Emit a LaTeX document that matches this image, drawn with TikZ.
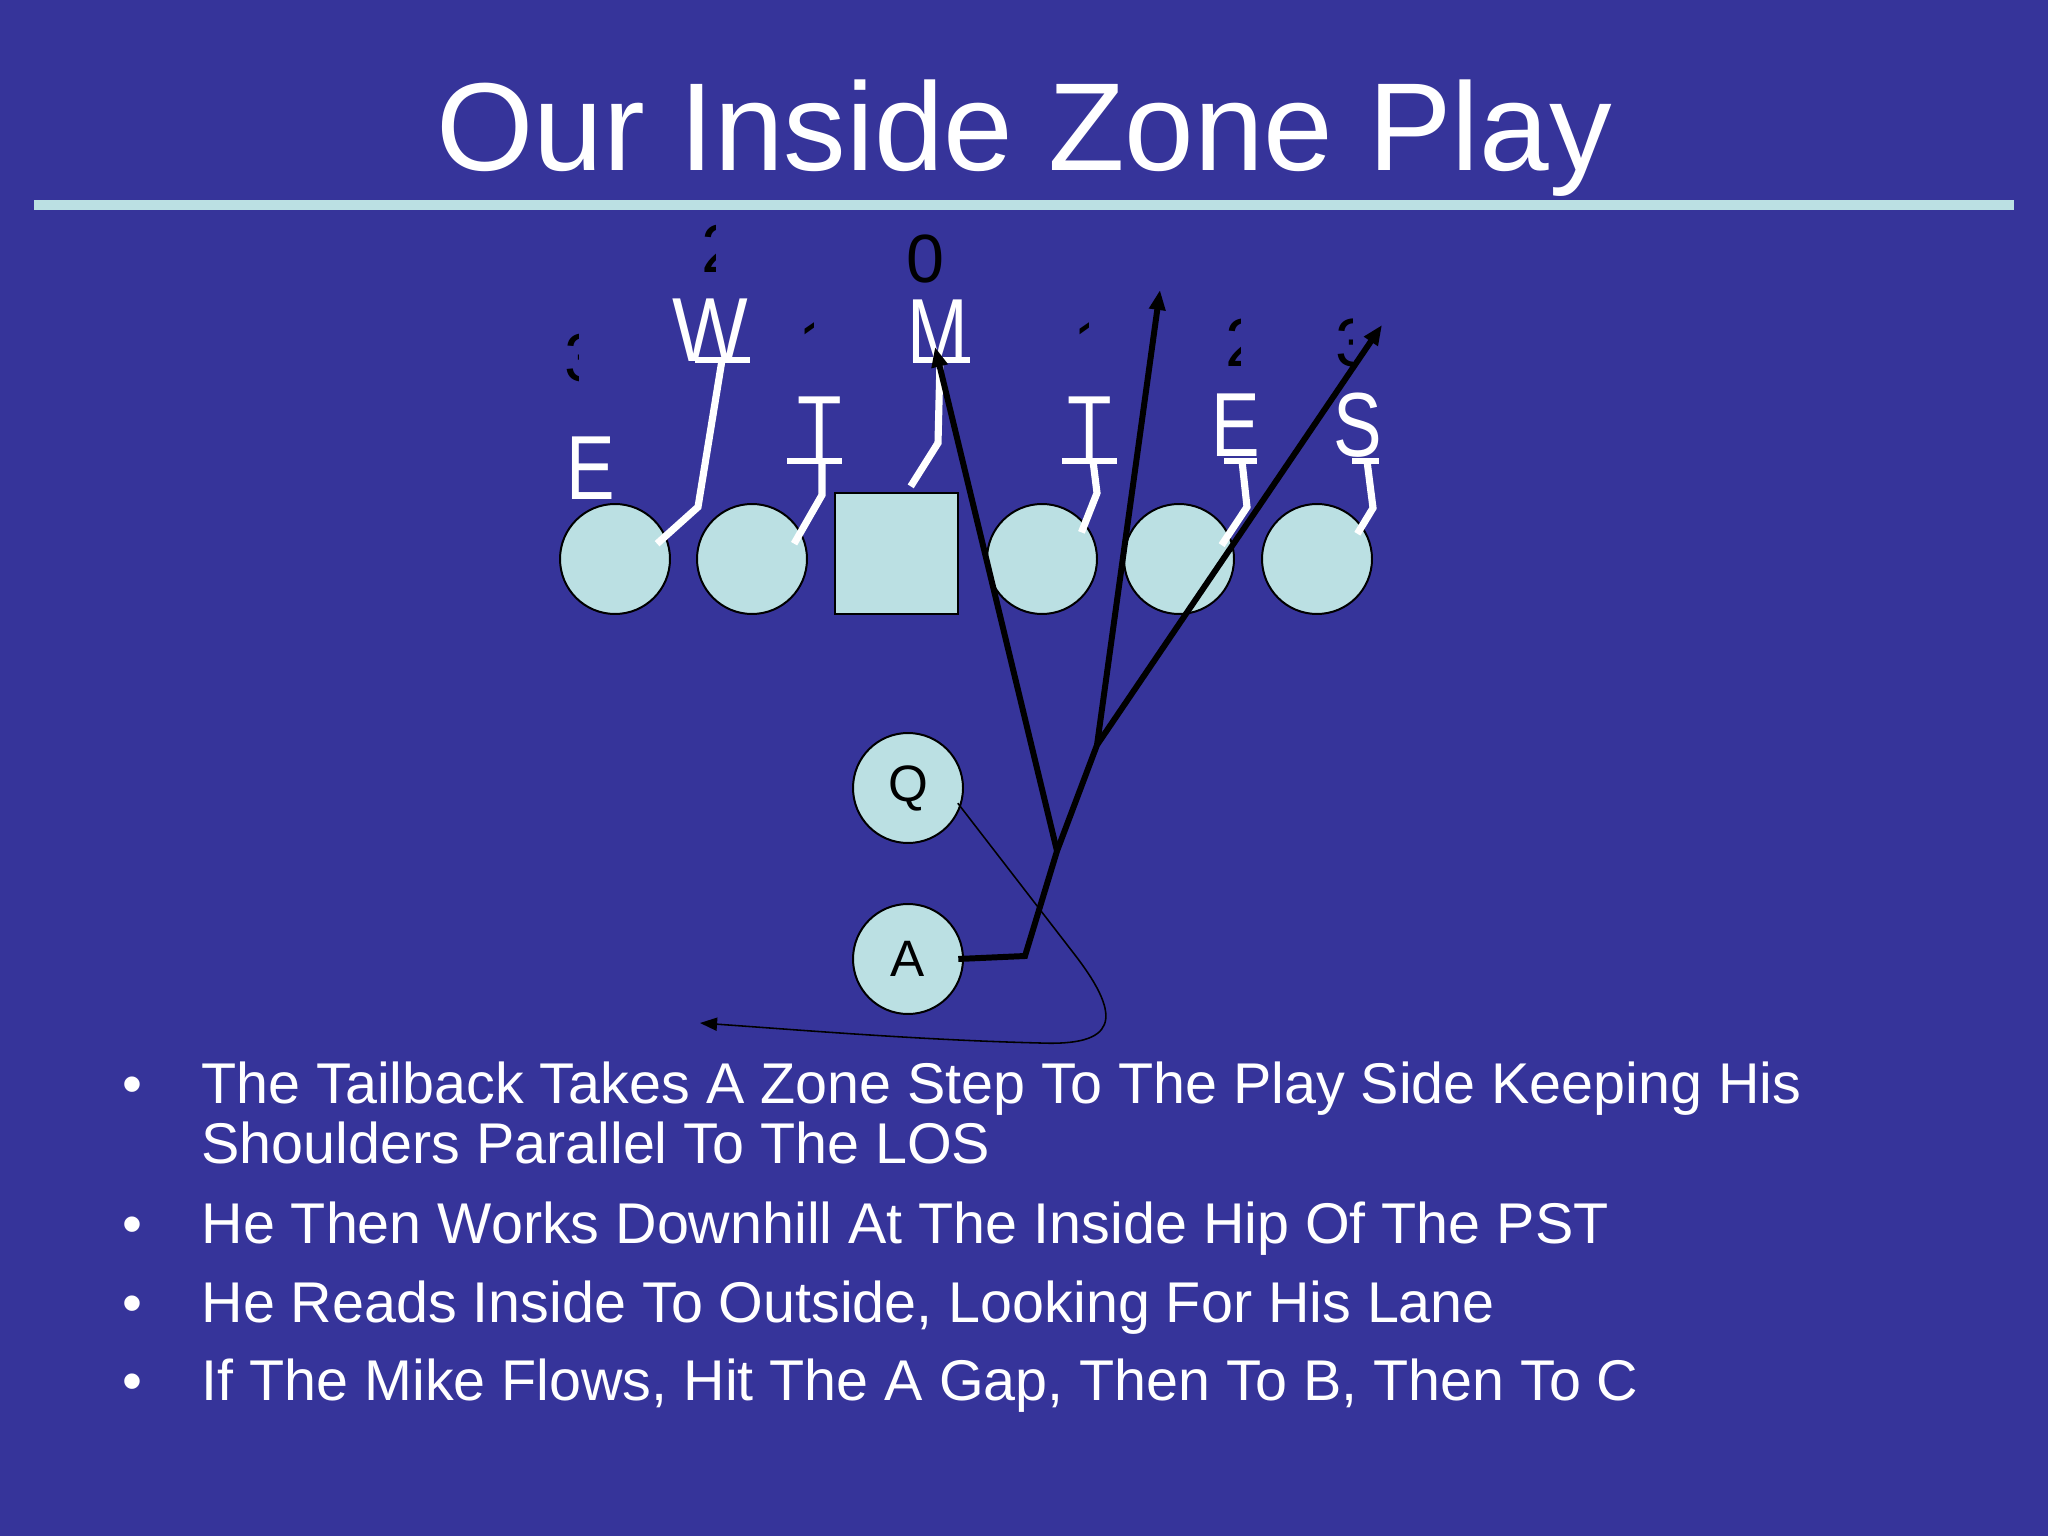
\documentclass[tikz,border=0pt]{standalone}
\usepackage{fontspec}
\setmainfont{Liberation Sans}
\usetikzlibrary{arrows.meta,calc}
\definecolor{bg}{RGB}{54,52,154}
\definecolor{lb}{RGB}{187,224,227}
\begin{document}
\begin{tikzpicture}[x=0.3515625pt,y=-0.3515625pt,
  player/.style={circle,draw=black,line width=0.7pt,fill=lb,minimum size=38.67pt,inner sep=0pt,
    font=\fontsize{18}{20}\selectfont},
  centerbox/.style={rectangle,draw=black,line width=0.7pt,fill=lb,minimum width=43.2pt,minimum height=42.5pt,inner sep=0pt},
  defl/.style={text=white,font=\fontsize{32}{36}\selectfont,inner sep=0pt,anchor=base,xscale=0.8},
  digit/.style={text=black,font=\fontsize{24}{28}\selectfont,inner sep=0pt,anchor=base west},
  blk/.style={draw=white,line width=2.5pt},
  blkbar/.style={draw=white,line width=2.2pt},
  runline/.style={draw=black,line width=2.1pt,line join=miter},
  runarrow/.style={runline,-{Triangle[length=7pt,width=5.5pt]}},
  thinarrow/.style={draw=black,line width=0.55pt,-{Triangle[length=6pt,width=4.6pt]}},
  bullettext/.style={text=white,font=\fontsize{20.2}{24}\selectfont,inner sep=0pt,anchor=base west},
  bulletdot/.style={text=white,font=\fontsize{20}{24}\selectfont,inner sep=0pt,anchor=base}]
\fill[bg] (0,0) rectangle (2048,1536);
\useasboundingbox (0,0) rectangle (2048,1536);

% title and rule
\node[text=white,font=\fontsize{44}{52}\selectfont,inner sep=0pt,anchor=base] (title) at (1024,171) {Our Inside Zone Play};
\fill[lb] (34,200) rectangle (2014,210);

% gap numbers (mostly hidden)
\begin{scope}\clip (550,300) rectangle (578,400); \node[digit] (g3l) at (564,382) {3}; \end{scope}
\begin{scope}\clip (690,215) rectangle (715,290); \node[digit] (g2l) at (701,273) {2}; \end{scope}
\begin{scope}\clip (790,315) rectangle (813,340); \node[digit] (g1l) at (798,369) {1}; \end{scope}
\node[digit,anchor=base] (g0) at (925,283) {0};
\begin{scope}\clip (1065,315) rectangle (1088,340); \node[digit] (g1r) at (1073,369) {1}; \end{scope}
\begin{scope}\clip (1215,305) rectangle (1240,380); \node[digit] (g2r) at (1225,367) {2}; \end{scope}
\begin{scope}\clip (1325,305) rectangle (1352,380); \node[digit] (g3r) at (1335,367) {3}; \end{scope}

% defenders
\node[defl] (dEl) at (591,500) {E};
\node[defl,xscale=1.1] (dW) at (710,362) {W};
\node[defl] (dTl) at (820,460) {T};
\node[defl] (dM) at (938,363) {M};
\node[defl] (dTr) at (1090,460) {T};
\node[defl] (dEr) at (1236,457) {E};
\node[defl] (dS) at (1358,457) {S};

% offensive line
\node[player] (o1) at (615,559) {};
\node[player] (o2) at (752,559) {};
\node[centerbox] (c) at (896.5,553.5) {};
\node[player] (o4) at (1042,559) {};
\node[player] (o5) at (1179,559) {};
\node[player] (o6) at (1317,559) {};

% backs
\node[player] (Q) at (908,788) {Q};
\node[player] (A) at (908,959) {A};

% blocks
\draw[blk] ($(o1.center)!0.8!(o1.20)$) -- (698,507) -- (722,360);
\draw[blkbar] (695,360) -- (750,360);
\draw[blk] ($(o2.center)!0.8!(o2.20)$) -- (822,495) -- (822,461);
\draw[blkbar] (787,461) -- (842,461);
\draw[blk] ([xshift=5pt,yshift=2pt]c.north) -- (938,443) -- (940,361);
\draw[blkbar] (913,360) -- (970,360);
\draw[blk] ($(o4.center)!0.85!(o4.34)$) -- (1097,493) -- (1093,461);
\draw[blkbar] (1062,461) -- (1117,461);
\draw[blk] ($(o5.center)!0.8!(o5.18)$) -- (1247,507) -- (1242,461);
\draw[blkbar] (1224,461) -- (1257,461);
\draw[blk] ($(o6.center)!0.85!(o6.32)$) -- (1373,508) -- (1367,461);
\draw[blkbar] (1352,461) -- (1379,461);

% tailback path
\coordinate (k1) at (1025,956);
\coordinate (b1) at (1057,851);
\coordinate (b2) at (1097,745);
\coordinate (t0) at (935,347);
\coordinate (t1) at (1160,290);
\coordinate (t3) at (1382,325);
\draw[runarrow] ([xshift=-2pt]A.east) -- (k1) -- (b1) -- (b2) -- (t3);
\draw[runarrow] (b1) -- (t0);
\draw[runarrow] (b2) -- (t1);

% quarterback path
\coordinate (qend) at (700,1023);
\draw[thinarrow] ($(Q.center)!0.93!(Q.-17)$) -- (1075,955) .. controls (1125,1020) and (1115,1046) .. (1040,1043)
   .. controls (920,1040) and (800,1030) .. (qend);

% bullets
\node[bulletdot] (d1) at (132,1103) {•};
\node[bullettext] (l1a) at (201,1103) {The Tailback Takes A Zone Step To The Play Side Keeping His};
\node[bullettext] (l1b) at (201,1163) {Shoulders Parallel To The LOS};
\node[bulletdot] (d2) at (132,1243) {•};
\node[bullettext] (l2) at (201,1243) {He Then Works Downhill At The Inside Hip Of The PST};
\node[bulletdot] (d3) at (132,1322) {•};
\node[bullettext] (l3) at (201,1322) {He Reads Inside To Outside, Looking For His Lane};
\node[bulletdot] (d4) at (132,1400) {•};
\node[bullettext] (l4) at (201,1400) {If The Mike Flows, Hit The A Gap, Then To B, Then To C};
\end{tikzpicture}
\end{document}
